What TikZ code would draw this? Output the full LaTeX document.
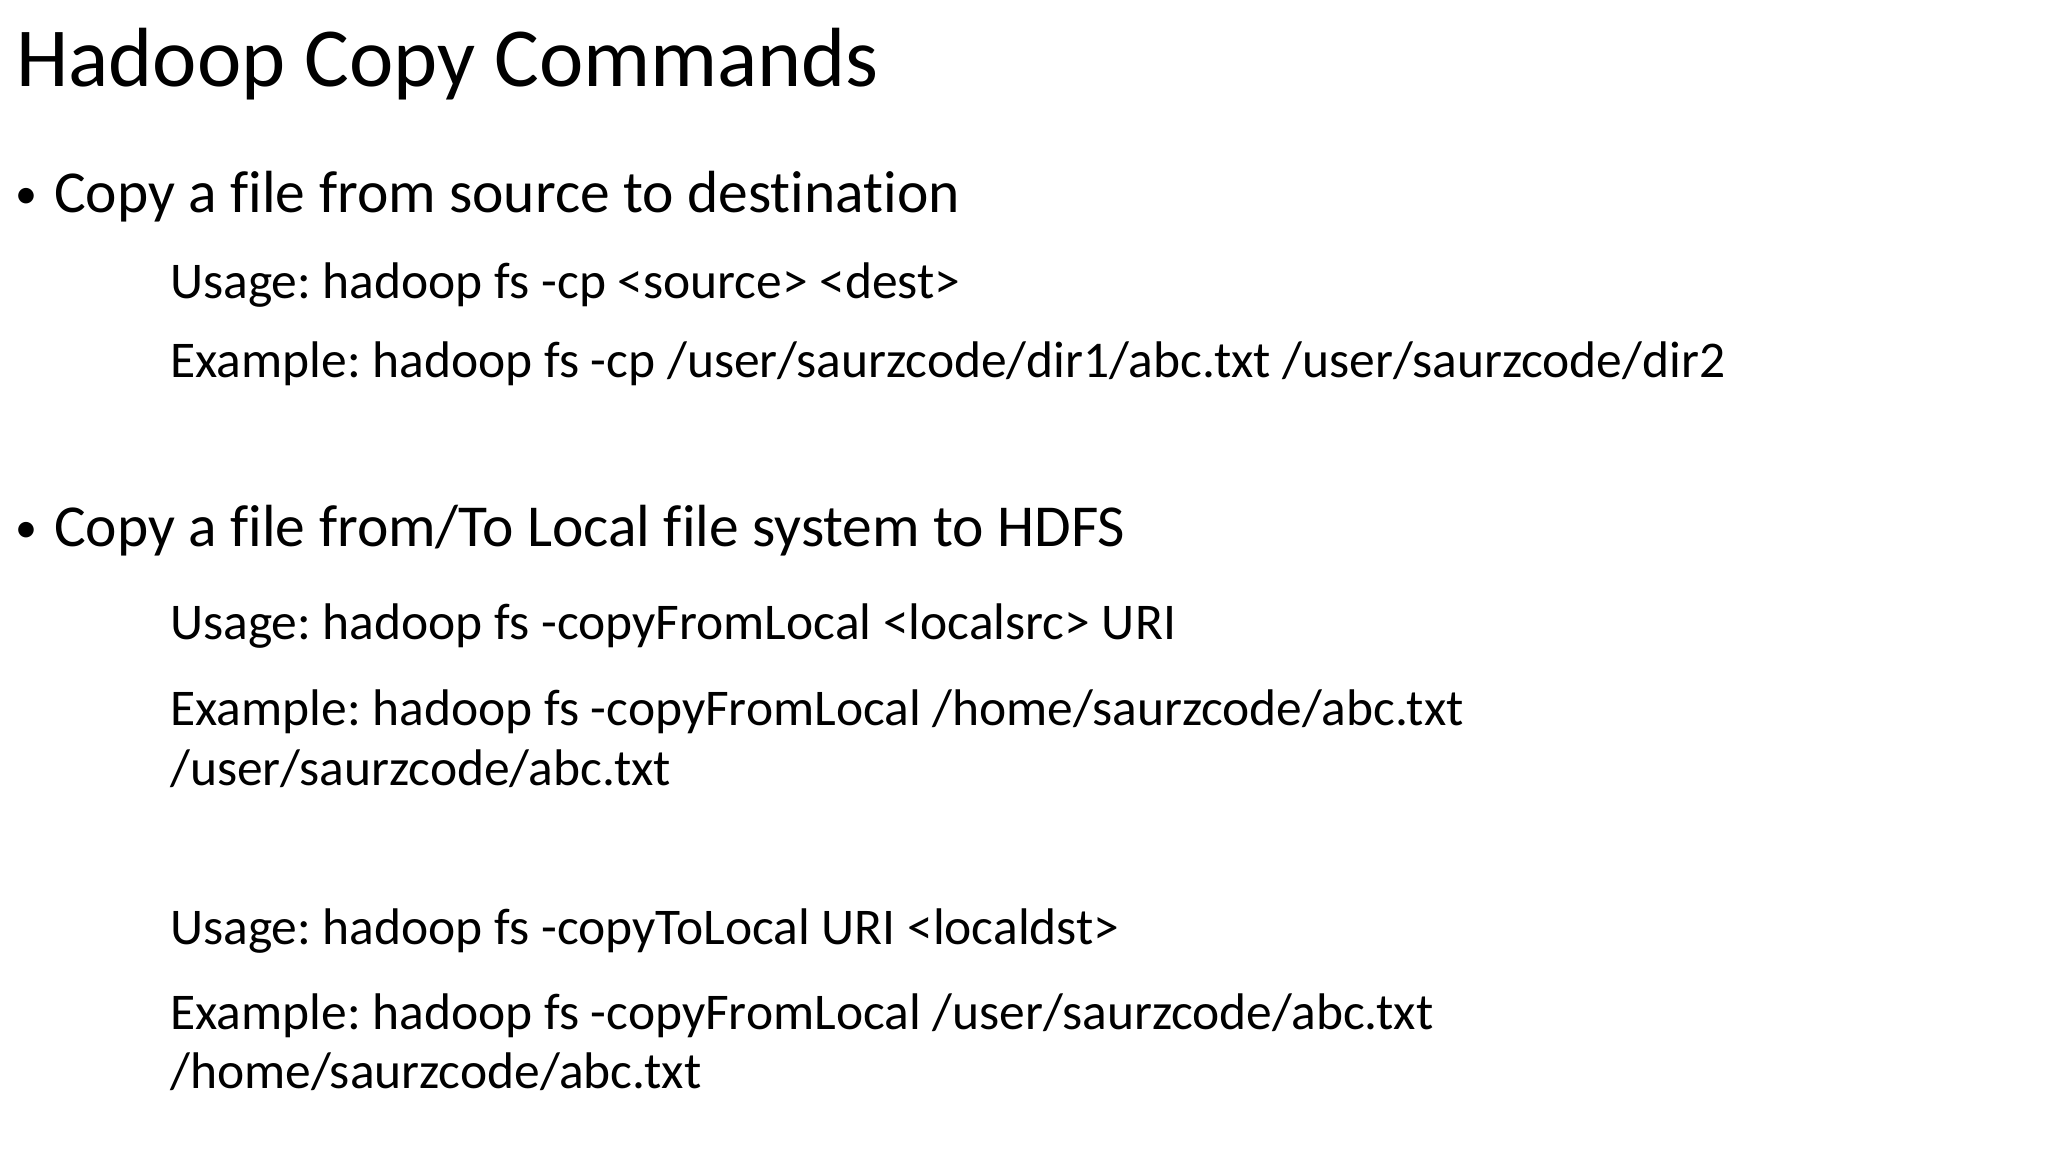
\documentclass[tikz,border=0pt]{standalone}
\usepackage{fontspec}
\setmainfont[Ligatures=NoCommon]{Carlito}
\frenchspacing
\begin{document}
\begin{tikzpicture}[x=1pt,y=-1pt,
  tl/.style={anchor=base west,inner sep=0pt,font=\fontsize{84}{100}\selectfont},
  bl/.style={anchor=base west,inner sep=0pt,font=\fontsize{59.5}{68}\selectfont},
  dl/.style={anchor=base west,inner sep=0pt,font=\fontsize{44}{50}\selectfont},
  sl/.style={anchor=base west,inner sep=0pt,font=\fontsize{51.5}{60}\selectfont}]
\useasboundingbox[fill=white] (0,0) rectangle (2048,1152);
\node[tl] (title) at (16,86) {Hadoop Copy Commands};
\node[dl] (b1dot) at (15,208) {•};
\node[bl] (b1) at (54,212) {Copy a file from source to destination};
\node[sl] (u1) at (170,298) {Usage: hadoop fs -cp <source> <dest>};
\node[sl] (e1) at (170,377) {Example: hadoop fs -cp /user/saurzcode/dir1/abc.txt /user/saurzcode/dir2};
\node[dl] (b2dot) at (15,542) {•};
\node[bl] (b2) at (54,546) {Copy a file from/To Local file system to HDFS};
\node[sl] (u2) at (170,639) {Usage: hadoop fs -copyFromLocal <localsrc> URI};
\node[sl] (e2) at (170,725) {Example: hadoop fs -copyFromLocal /home/saurzcode/abc.txt};
\node[sl] (e2b) at (170,785) {/user/saurzcode/abc.txt};
\node[sl] (u3) at (170,944) {Usage: hadoop fs -copyToLocal URI <localdst>};
\node[sl] (e3) at (170,1029) {Example: hadoop fs -copyFromLocal /user/saurzcode/abc.txt};
\node[sl] (e3b) at (170,1088) {/home/saurzcode/abc.txt};
\end{tikzpicture}
\end{document}
